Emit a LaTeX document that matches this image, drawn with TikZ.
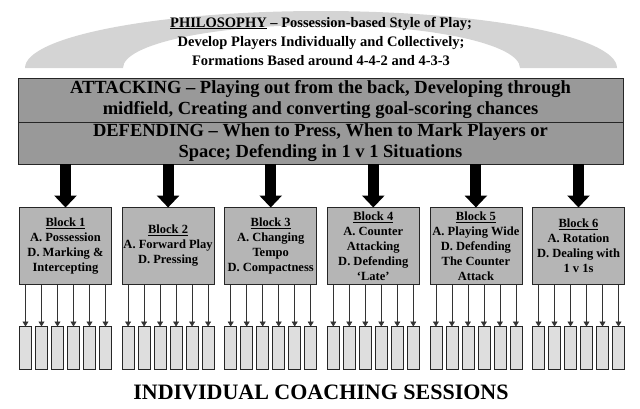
\documentclass[tikz,border=0pt]{standalone}
\usepackage{fontspec}
\setmainfont{Liberation Serif}
\usetikzlibrary{positioning,arrows.meta}
\definecolor{philogray}{RGB}{212,212,212}
\definecolor{tacticgray}{RGB}{153,153,153}
\definecolor{blockgray}{RGB}{181,181,181}
\definecolor{sessiongray}{RGB}{222,222,222}
\tikzset{
 tactic/.style={draw=black!85,fill=tacticgray,line width=0.8pt,minimum width=605pt,align=center,inner sep=0pt,outer sep=0pt,font=\bfseries\fontsize{18.5}{21}\selectfont},
 blockbox/.style={draw=black!85,fill=blockgray,line width=0.8pt,minimum width=92pt,minimum height=77pt,align=center,inner sep=0pt,outer sep=0pt,font=\bfseries\fontsize{12.5}{15}\selectfont},
 session/.style={draw=black!85,fill=sessiongray,line width=0.6pt,minimum width=12pt,minimum height=43pt,inner sep=0pt,outer sep=0pt},
 bigarrow/.style={line width=11pt,-{Triangle[width=22pt,length=12pt]}},
 smallarrow/.style={black!80,line width=0.5pt,-{Triangle[width=6pt,length=5pt]}}
}

\begin{document}
\begin{tikzpicture}[x=1pt,y=-1pt]
 \useasboundingbox (0,0) rectangle (640,408);

 %Philosophy arch
 \fill[philogray] (25,68) arc[start angle=180,end angle=360,x radius=296,y radius=57]
   -- (520,68) arc[start angle=360,end angle=180,x radius=198.5,y radius=43] -- cycle;
 \node (philosophy) [align=center,font=\bfseries\fontsize{14.5}{19}\selectfont] at (321,41)
   {\underline{PHILOSOPHY} – Possession-based Style of Play;\\Develop Players Individually and Collectively;\\Formations Based around 4-4-2 and 4-3-3};

 %Attacking and defending
 \node (attacking) [tactic,minimum height=44pt] at (320.5,100)
   {ATTACKING – Playing out from the back, Developing through\\midfield, Creating and converting goal-scoring chances};
 \node (defending) [tactic,minimum height=42pt,below=0pt of attacking]
   {DEFENDING – When to Press, When to Mark Players or\\Space; Defending in 1 v 1 Situations};

 %Blocks
 \node (block1) [blockbox] at (65.5,246) {\underline{Block 1}\\A. Possession\\D. Marking \&\\Intercepting};
 \node (block2) [blockbox,right=10.6pt of block1] {\underline{Block 2}\\A. Forward Play\\D. Pressing};
 \node (block3) [blockbox,right=10.6pt of block2] {\underline{Block 3}\\A. Changing\\Tempo\\D. Compactness};
 \node (block4) [blockbox,right=10.6pt of block3] {\underline{Block 4}\\A. Counter\\Attacking\\D. Defending\\‘Late’};
 \node (block5) [blockbox,right=10.6pt of block4] {\underline{Block 5}\\A. Playing Wide\\D. Defending\\The Counter\\Attack};
 \node (block6) [blockbox,right=10.6pt of block5] {\underline{Block 6}\\A. Rotation\\D. Dealing with\\1 v 1s};

 %Sessions
 \foreach \i in {1,...,6}{
   \draw[bigarrow] (defending.south -| block\i.north) -- (block\i.north);
   \foreach \j in {1,...,6}{
     \pgfmathsetmacro\off{16*(\j-1)}
     \node (session\i-\j) [session,anchor=north west] at ([xshift=\off pt,yshift=-42pt]block\i.south west) {};
     \draw[smallarrow] (session\i-\j.north |- block\i.south) -- (session\i-\j.north);
   }
 }

 \node (sessions) [font=\bfseries\fontsize{22}{26}\selectfont] at (321,392) {INDIVIDUAL COACHING SESSIONS};

\end{tikzpicture}
\end{document}
